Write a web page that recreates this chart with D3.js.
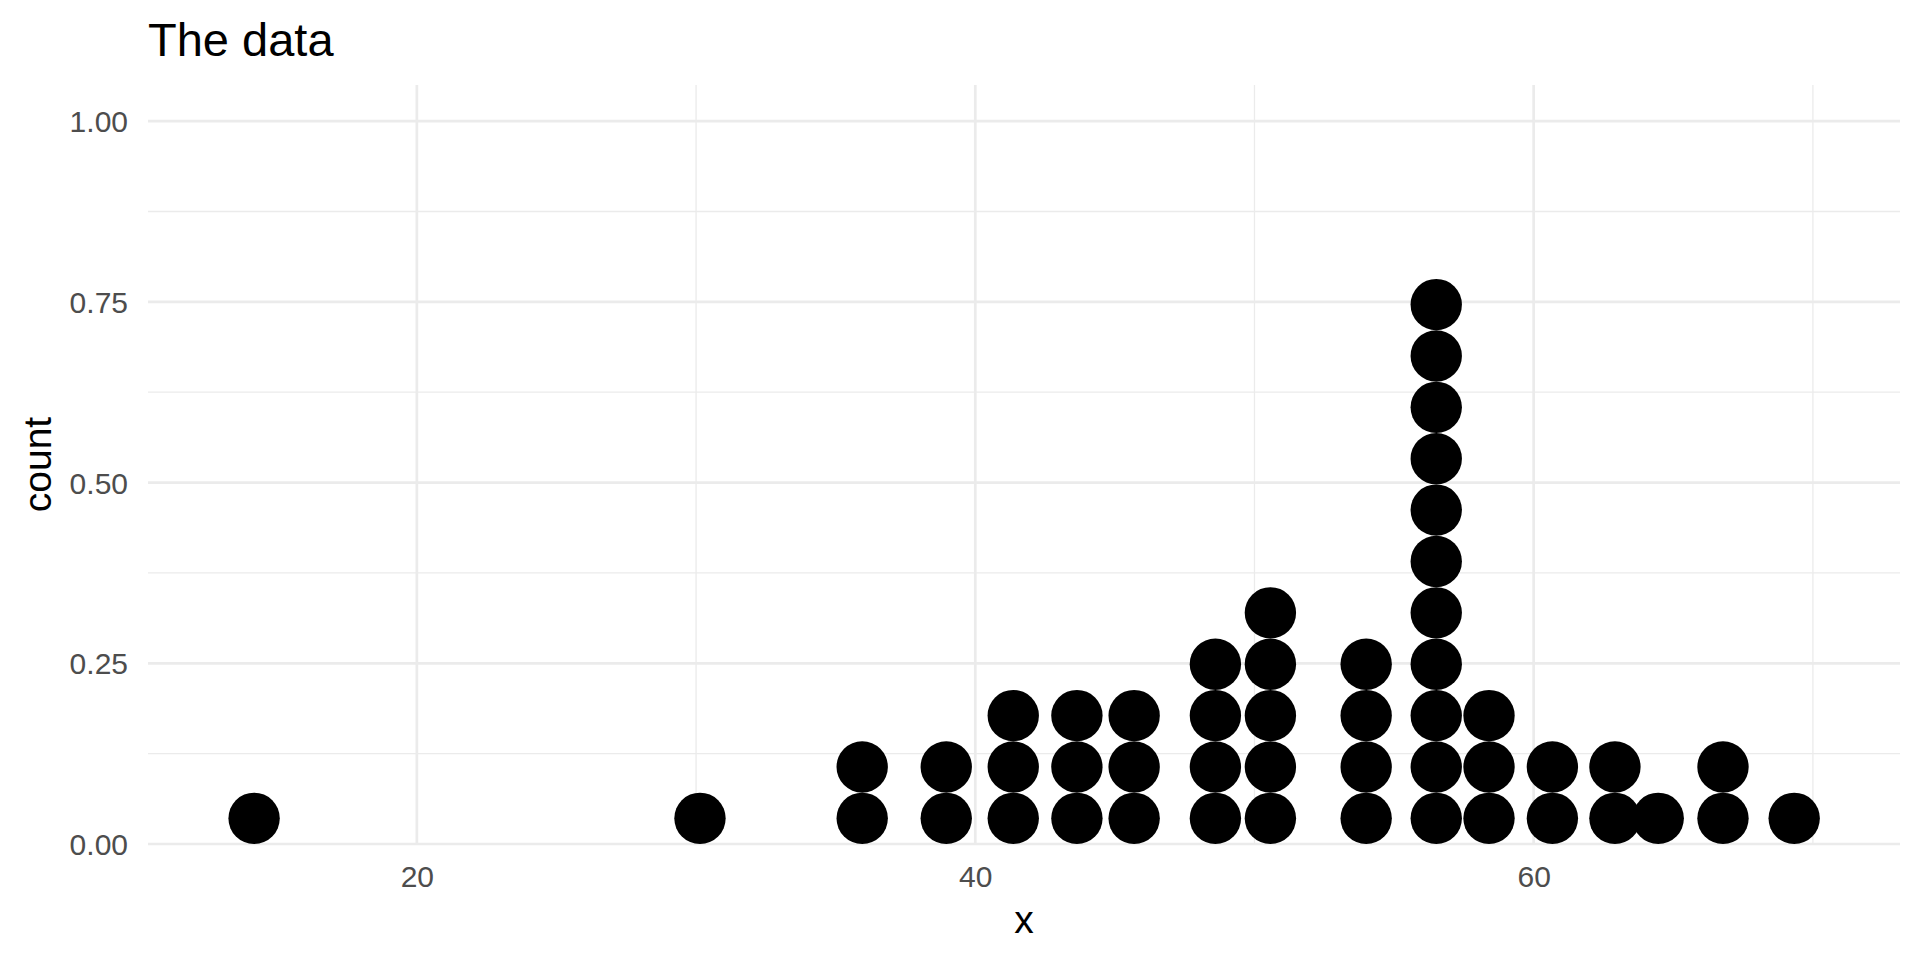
<!DOCTYPE html>
<html>
<head>
<meta charset="utf-8">
<script src="https://cdn.jsdelivr.net/npm/d3@7"></script>
<style>
  html, body { margin: 0; padding: 0; background: #fff; }
  text { font-family: "Liberation Sans", Arial, sans-serif; }
</style>
</head>
<body>
<div id="chart"></div>
<script>
// stacks of the dot plot: bin centre on x and number of dots in it
const binCenters = [14.17, 30.14, 35.95, 38.96, 41.36, 43.64, 45.69, 48.60, 50.57,
                    54.00, 56.51, 58.40, 60.67, 62.91, 64.46, 66.78, 69.33]
const binCounts  = [1, 1, 2, 2, 3, 3, 3, 4, 5, 4, 11, 3, 2, 2, 1, 2, 1]
const binWidth = 1.84

const xMajor = [20, 40, 60]
const xMinor = [30, 50, 70]
const yMajor = [0, 0.25, 0.5, 0.75, 1]
const yMinor = [0.125, 0.375, 0.625, 0.875]

const dimensions = {
    width: 1920,
    height: 960,
    margin: { top: 85, bottom: 116, left: 148, right: 20 }
}

const svg = d3.select('#chart')
    .append('svg')
    .attr('width', dimensions.width)
    .attr('height', dimensions.height)

const panelLeft = dimensions.margin.left
const panelRight = dimensions.width - dimensions.margin.right
const panelTop = dimensions.margin.top
const panelBottom = dimensions.height - dimensions.margin.bottom

const xScale = d3.scaleLinear()
    .domain([10.37, 73.12])
    .range([panelLeft, panelRight])

const yScale = d3.scaleLinear()
    .domain([0, 1.05])
    .range([panelBottom, panelTop])

// grid
const grid = svg.append('g')
grid.selectAll('.ymin')
    .data(yMinor)
    .join('line')
    .attr('x1', panelLeft).attr('x2', panelRight)
    .attr('y1', d => yScale(d)).attr('y2', d => yScale(d))
    .attr('stroke', '#ebebeb').attr('stroke-width', 1.3)
grid.selectAll('.xmin')
    .data(xMinor)
    .join('line')
    .attr('x1', d => xScale(d)).attr('x2', d => xScale(d))
    .attr('y1', panelTop).attr('y2', panelBottom)
    .attr('stroke', '#ebebeb').attr('stroke-width', 1.3)
grid.selectAll('.ymaj')
    .data(yMajor)
    .join('line')
    .attr('x1', panelLeft).attr('x2', panelRight)
    .attr('y1', d => yScale(d)).attr('y2', d => yScale(d))
    .attr('stroke', '#ebebeb').attr('stroke-width', 2.7)
grid.selectAll('.xmaj')
    .data(xMajor)
    .join('line')
    .attr('x1', d => xScale(d)).attr('x2', d => xScale(d))
    .attr('y1', panelTop).attr('y2', panelBottom)
    .attr('stroke', '#ebebeb').attr('stroke-width', 2.7)

// dots
const r = (xScale(binWidth) - xScale(0)) / 2
const dots = []
binCenters.forEach((c, i) => {
    for (let k = 0; k < binCounts[i]; k++) dots.push({ x: c, k })
})

svg.append('g')
    .selectAll('circle')
    .data(dots)
    .join('circle')
    .attr('cx', d => xScale(d.x))
    .attr('cy', d => yScale(0) - r * (2 * d.k + 1))
    .attr('r', r)
    .attr('fill', 'black')

// axes (no lines, only labels)
const xAxis = d3.axisBottom(xScale)
    .tickValues(xMajor)
    .tickSize(0)
    .tickPadding(0)
const yAxis = d3.axisLeft(yScale)
    .tickValues(yMajor)
    .tickSize(0)
    .tickFormat(d3.format('.2f'))

const xAxisGroup = svg.append('g')
    .attr('transform', `translate(0, ${panelBottom})`)
    .call(xAxis)
xAxisGroup.select('.domain').remove()
xAxisGroup.selectAll('text')
    .attr('dy', null)
    .attr('y', 43)
    .attr('fill', '#4d4d4d')
    .style('font-size', '30px')
    .style('font-family', '"Liberation Sans", Arial, sans-serif')

const yAxisGroup = svg.append('g')
    .attr('transform', `translate(${panelLeft}, 0)`)
    .call(yAxis)
yAxisGroup.select('.domain').remove()
yAxisGroup.selectAll('text')
    .attr('x', -20)
    .attr('dy', '0.35em')
    .attr('fill', '#4d4d4d')
    .style('font-size', '30px')
    .style('font-family', '"Liberation Sans", Arial, sans-serif')

// titles
svg.append('text')
    .attr('x', 148)
    .attr('y', 56)
    .attr('fill', 'black')
    .style('font-size', '47px')
    .text('The data')

svg.append('text')
    .attr('x', (panelLeft + panelRight) / 2)
    .attr('y', 933)
    .attr('text-anchor', 'middle')
    .attr('fill', 'black')
    .style('font-size', '39px')
    .text('x')

svg.append('text')
    .attr('transform', `translate(51, ${(panelTop + panelBottom) / 2}) rotate(-90)`)
    .attr('text-anchor', 'middle')
    .attr('fill', 'black')
    .style('font-size', '39px')
    .text('count')
</script>
</body>
</html>
